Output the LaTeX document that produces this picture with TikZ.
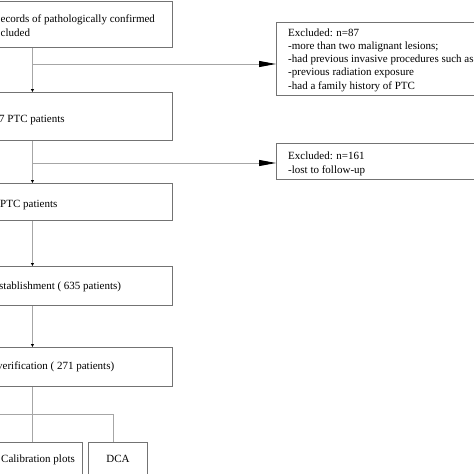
\documentclass[tikz,border=0pt]{standalone}
\usepackage{fontspec}
\setmainfont{Liberation Serif}
\usetikzlibrary{arrows.meta}
\begin{document}
\begin{tikzpicture}[x=1pt,y=-1pt,
  box/.style={draw=black!55, line width=0.9pt, inner sep=0pt, anchor=north west},
  conn/.style={draw=black!35, line width=0.9pt},
  downarrow/.style={conn, -{Triangle[length=3pt,width=3pt,black]}},
  sidearrow/.style={conn, -{Triangle[length=17pt,width=6pt,black]}},
  txt/.style={anchor=base west, inner sep=0pt, font=\fontsize{11}{13}\selectfont}]
\useasboundingbox (0,0) rectangle (474,474);
\clip (0,0) rectangle (474,474);
\fill[white] (0,0) rectangle (474,474);
% main boxes
\node[box, minimum width=280pt, minimum height=46pt] (b1) at (-108,1) {};
\node[box, minimum width=280pt, minimum height=48pt] (b2) at (-108,92) {};
\node[box, minimum width=280pt, minimum height=37pt] (b3) at (-108,183) {};
\node[box, minimum width=280pt, minimum height=39pt] (b4) at (-108,266) {};
\node[box, minimum width=280pt, minimum height=39pt] (b5) at (-108,347) {};
\node[box, minimum width=142pt, minimum height=50pt] (cal) at (-60,442) {};
\node[box, minimum width=59pt, minimum height=50pt] (dca) at (88,442) {};
% exclusion boxes
\node[box, minimum width=230pt, minimum height=73pt] (ex1) at (276,22) {};
\node[box, minimum width=230pt, minimum height=36pt] (ex2) at (276,143) {};
% texts
\node[txt] (t1a) at (0.5,22) {ecords of pathologically confirmed};
\node[txt] (t1b) at (0.5,36) {cluded};
\node[txt] (t2) at (-1,122) {7 PTC patients};
\node[txt] (t3) at (0,207) {PTC patients};
\node[txt] (t4) at (-1,289) {stablishment ( 635 patients)};
\node[txt] (t5) at (-3,369) {verification ( 271 patients)};
\node[txt] (t6) at (1,462) {Calibration plots};
\node[txt, anchor=base] (t7) at (dca.north |- 0,462) {DCA};
\node[txt] (e1a) at (288,36) {Excluded: n=87};
\node[txt] (e1b) at (288,49) {-more than two malignant lesions;};
\node[txt] (e1c) at (288,62) {-had previous invasive procedures such as};
\node[txt] (e1d) at (288,75) {-previous radiation exposure};
\node[txt] (e1e) at (288,89) {-had a family history of PTC};
\node[txt] (e2a) at (288,159) {Excluded: n=161};
\node[txt] (e2b) at (288,173) {-lost to follow-up};
% connectors
\coordinate (j1) at (32,64);
\coordinate (j2) at (32,163);
\draw[downarrow] (b1.south) -- (b2.north);
\draw[sidearrow] (j1) -- (ex1.west |- j1);
\draw[downarrow] (b2.south) -- (b3.north);
\draw[sidearrow] (j2) -- (ex2.west |- j2);
\draw[downarrow] (b3.south) -- (b4.north);
\draw[downarrow] (b4.south) -- (b5.north);
\coordinate (j3) at (-20,414);
\coordinate (j4) at (113,414);
\draw[conn] (b5.south) -- (b5.south |- cal.north);
\draw[conn] (j3) -- (j4) -- (j4 |- dca.north);
\end{tikzpicture}
\end{document}
